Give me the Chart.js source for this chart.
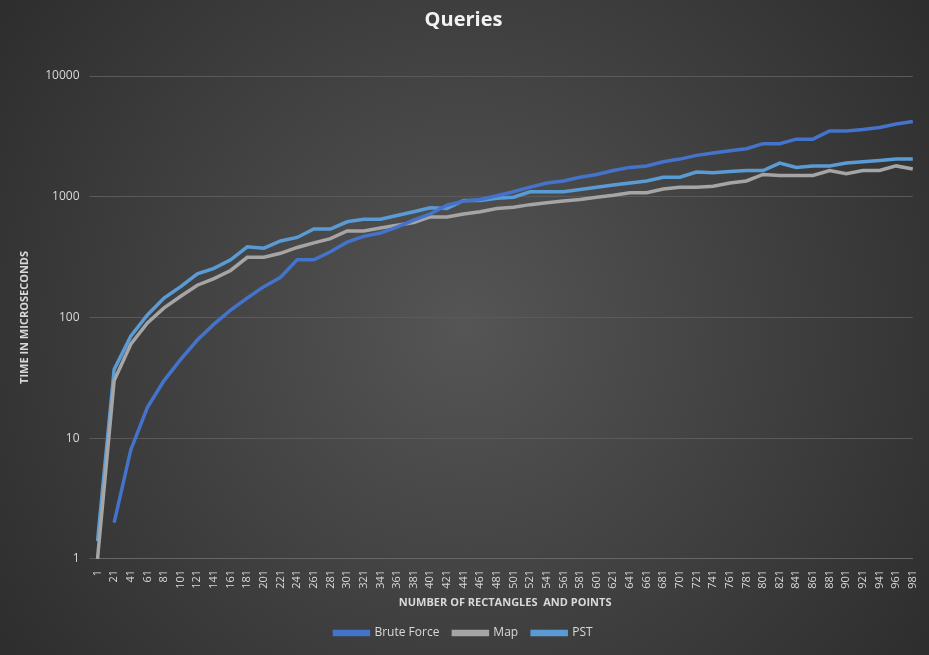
<!DOCTYPE html>
<html><head><meta charset="utf-8">
<script src="https://cdn.jsdelivr.net/npm/chart.js@4"></script>
<style>html,body{margin:0;padding:0;background:#3a3a3a}#w{width:929px;height:655px}</style>
</head><body><div id="w"><canvas id="c"></canvas></div>
<script>
const categories=[1,21,41,61,81,101,121,141,161,181,201,221,241,261,281,301,321,341,361,381,401,421,441,461,481,501,521,541,561,581,601,621,641,661,681,701,721,741,761,781,801,821,841,861,881,901,921,941,961,981].map(String);
const bruteForce=[null,2,8,18,30,45,65,88,115,145,180,215,300,300,350,420,470,500,560,640,720,850,920,950,1020,1100,1200,1300,1350,1450,1530,1650,1750,1800,1950,2050,2200,2300,2400,2500,2750,2750,3000,3000,3500,3500,3600,3750,4000,4200];
const mapSeries=[1,30,60,90,120,150,185,210,245,315,315,340,380,415,450,520,520,550,580,610,680,680,720,750,800,820,860,890,920,950,990,1030,1080,1080,1160,1200,1200,1220,1300,1350,1530,1500,1500,1500,1650,1550,1650,1650,1800,1700];
const pst=[1.4,37,70,105,145,180,230,255,300,385,375,430,460,540,540,620,650,650,700,750,810,800,930,930,970,990,1100,1100,1100,1150,1200,1250,1300,1350,1450,1450,1600,1580,1620,1650,1650,1900,1750,1800,1800,1900,1950,2000,2050,2050];
const yTicks=[1,10,100,1000,10000];
const bg={id:'bg',beforeDraw(ch){const c=ch.ctx,w=ch.width,h=ch.height;const g=c.createRadialGradient(w/2,h/2,0,w/2,h/2,w*0.6);g.addColorStop(0,'#555555');g.addColorStop(1,'#2e2e2e');c.save();c.fillStyle=g;c.fillRect(0,0,w,h);c.restore();}};
const font='"Open Sans", "Liberation Sans", sans-serif';
const ds=(l,d,col)=>({label:l,data:d,borderColor:col,backgroundColor:col,borderWidth:3.5,pointRadius:0,tension:0,spanGaps:false});
new Chart(document.getElementById('c'),{type:'line',plugins:[bg],
data:{labels:categories,datasets:[ds('Brute Force',bruteForce,'#4473cc'),ds('Map',mapSeries,'#a5a5a5'),ds('PST',pst,'#5b9bd5')]},
options:{responsive:true,maintainAspectRatio:false,animation:false,
layout:{padding:{left:14,right:16,top:4,bottom:6}},
plugins:{title:{display:true,text:'Queries',color:'#f2f2f2',font:{family:font,size:20,weight:'bold'},padding:{top:4,bottom:44}},
legend:{position:'bottom',labels:{color:'#d9d9d9',font:{family:font,size:12},boxWidth:34,boxHeight:3,padding:14}},tooltip:{enabled:false}},
scales:{x:{grid:{display:false},border:{color:'#666'},ticks:{color:'#d9d9d9',font:{family:font,size:11},maxRotation:90,minRotation:90,autoSkip:false},
title:{display:true,text:'NUMBER OF RECTANGLES  AND POINTS',color:'#d9d9d9',font:{family:font,size:11,weight:'bold'},padding:{top:4}}},
y:{type:'logarithmic',min:1,max:10000,afterBuildTicks(a){a.ticks=yTicks.map(v=>({value:v}));},
grid:{color:'#5a5a5a'},border:{display:false},ticks:{color:'#d9d9d9',font:{family:font,size:12},padding:10,callback:v=>String(v)},
title:{display:true,text:'TIME IN MICROSECONDS',color:'#d9d9d9',font:{family:font,size:11,weight:'bold'}}}}}});
</script></body></html>
